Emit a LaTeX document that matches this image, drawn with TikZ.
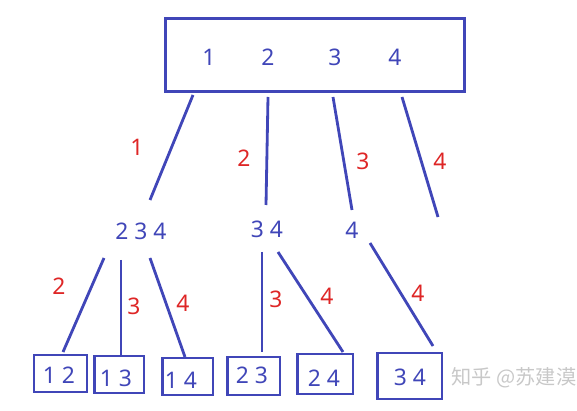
\documentclass[tikz,border=0pt]{standalone}
\usepackage{fontspec}
\setmainfont{Noto Sans}
\newfontfamily\cjk{Noto Sans CJK SC}
\usetikzlibrary{positioning}
\definecolor{setblue}{RGB}{64,70,184}
\definecolor{cutred}{RGB}{222,38,38}
\definecolor{markgray}{RGB}{200,200,200}
\tikzset{
  num/.style={text=setblue,font=\fontsize{13}{15}\selectfont,inner sep=0pt},
  lab/.style={text=cutred,font=\fontsize{13}{15}\selectfont,inner sep=0pt},
  edge/.style={draw=setblue,line width=1.6pt},
  leafbox/.style={draw=setblue,line width=1.7pt,inner sep=0pt,text=setblue,font=\fontsize{13}{15}\selectfont}
}
\begin{document}
\begin{tikzpicture}[x=0.02cm,y=-0.02cm]
	\useasboundingbox (0,0) rectangle (577,411);
	% top set
	\node[leafbox,minimum width=5.98cm,minimum height=1.46cm] (root) at (315,55) {};
	\node[num] (r1) at (209,57) {1};
	\node[num] (r2) at (268,57) {2};
	\node[num] (r3) at (335,57) {3};
	\node[num] (r4) at (395,57) {4};
	% middle sets
	\node[num] (m234) at (141,231) {2 3 4};
	\node[num] (m34) at (267,229) {3 4};
	\node[num] (m4) at (352,230) {4};
	% leaves
	\node[leafbox,minimum width=1.06cm,minimum height=0.74cm] (l12) at (60.5,373.5) {};
	\node[num] at (59,375) {1 2};
	\node[leafbox,minimum width=1.0cm,minimum height=0.74cm] (l13) at (119,374.5) {};
	\node[num] at (116,378) {1 3};
	\node[leafbox,minimum width=1.02cm,minimum height=0.74cm] (l14) at (187.5,376.5) {};
	\node[num] at (181,380) {1 4};
	\node[leafbox,minimum width=1.06cm,minimum height=0.76cm] (l23) at (253.5,376) {};
	\node[num] at (252,375) {2 3};
	\node[leafbox,minimum width=1.12cm,minimum height=0.8cm] (l24) at (325,374) {};
	\node[num] at (324,378) {2 4};
	\node[leafbox,minimum width=1.3cm,minimum height=0.92cm] (l34) at (409.5,376) {};
	\node[num] at (410,377) {3 4};
	% branches from the top
	\coordinate (a1) at (193,95);  \coordinate (b1) at (150,200);
	\coordinate (a2) at (268,97);  \coordinate (b2) at (266,205);
	\coordinate (a3) at (333,97);  \coordinate (b3) at (352,210);
	\coordinate (a4) at (402,97);  \coordinate (b4) at (438,217);
	\draw[edge] (a1)--(b1);
	\draw[edge] (a2)--(b2);
	\draw[edge] (a3)--(b3);
	\draw[edge] (a4)--(b4);
	\node[lab] (t1) at (137,147) {1};
	\node[lab] (t2) at (244,158) {2};
	\node[lab] (t3) at (363,161) {3};
	\node[lab] (t4) at (440,161) {4};
	% branches from the middle
	\coordinate (c12) at (104,258); \coordinate (d12) at (63,352);
	\coordinate (c13) at (121,260); \coordinate (d13) at (121,355);
	\coordinate (c14) at (150,258); \coordinate (d14) at (185,357);
	\coordinate (c23) at (262,252); \coordinate (d23) at (262,352);
	\coordinate (c24) at (278,252); \coordinate (d24) at (343,352);
	\coordinate (c34) at (370,243); \coordinate (d34) at (433,346);
	\draw[edge] (c12)--(d12);
	\draw[edge] (c13)--(d13);
	\draw[edge] (c14)--(d14);
	\draw[edge] (c23)--(d23);
	\draw[edge] (c24)--(d24);
	\draw[edge] (c34)--(d34);
	\node[lab] (u12) at (59,286) {2};
	\node[lab] (u13) at (134,306) {3};
	\node[lab] (u14) at (183,303) {4};
	\node[lab] (u23) at (276,299) {3};
	\node[lab] (u24) at (327,296) {4};
	\node[lab] (u34) at (418,293) {4};
	% watermark
	\node[text=markgray,font=\cjk\fontsize{11.5}{13}\selectfont,inner sep=0pt] (mark) at (514,378) {知乎 @苏建漠};
\end{tikzpicture}
\end{document}
